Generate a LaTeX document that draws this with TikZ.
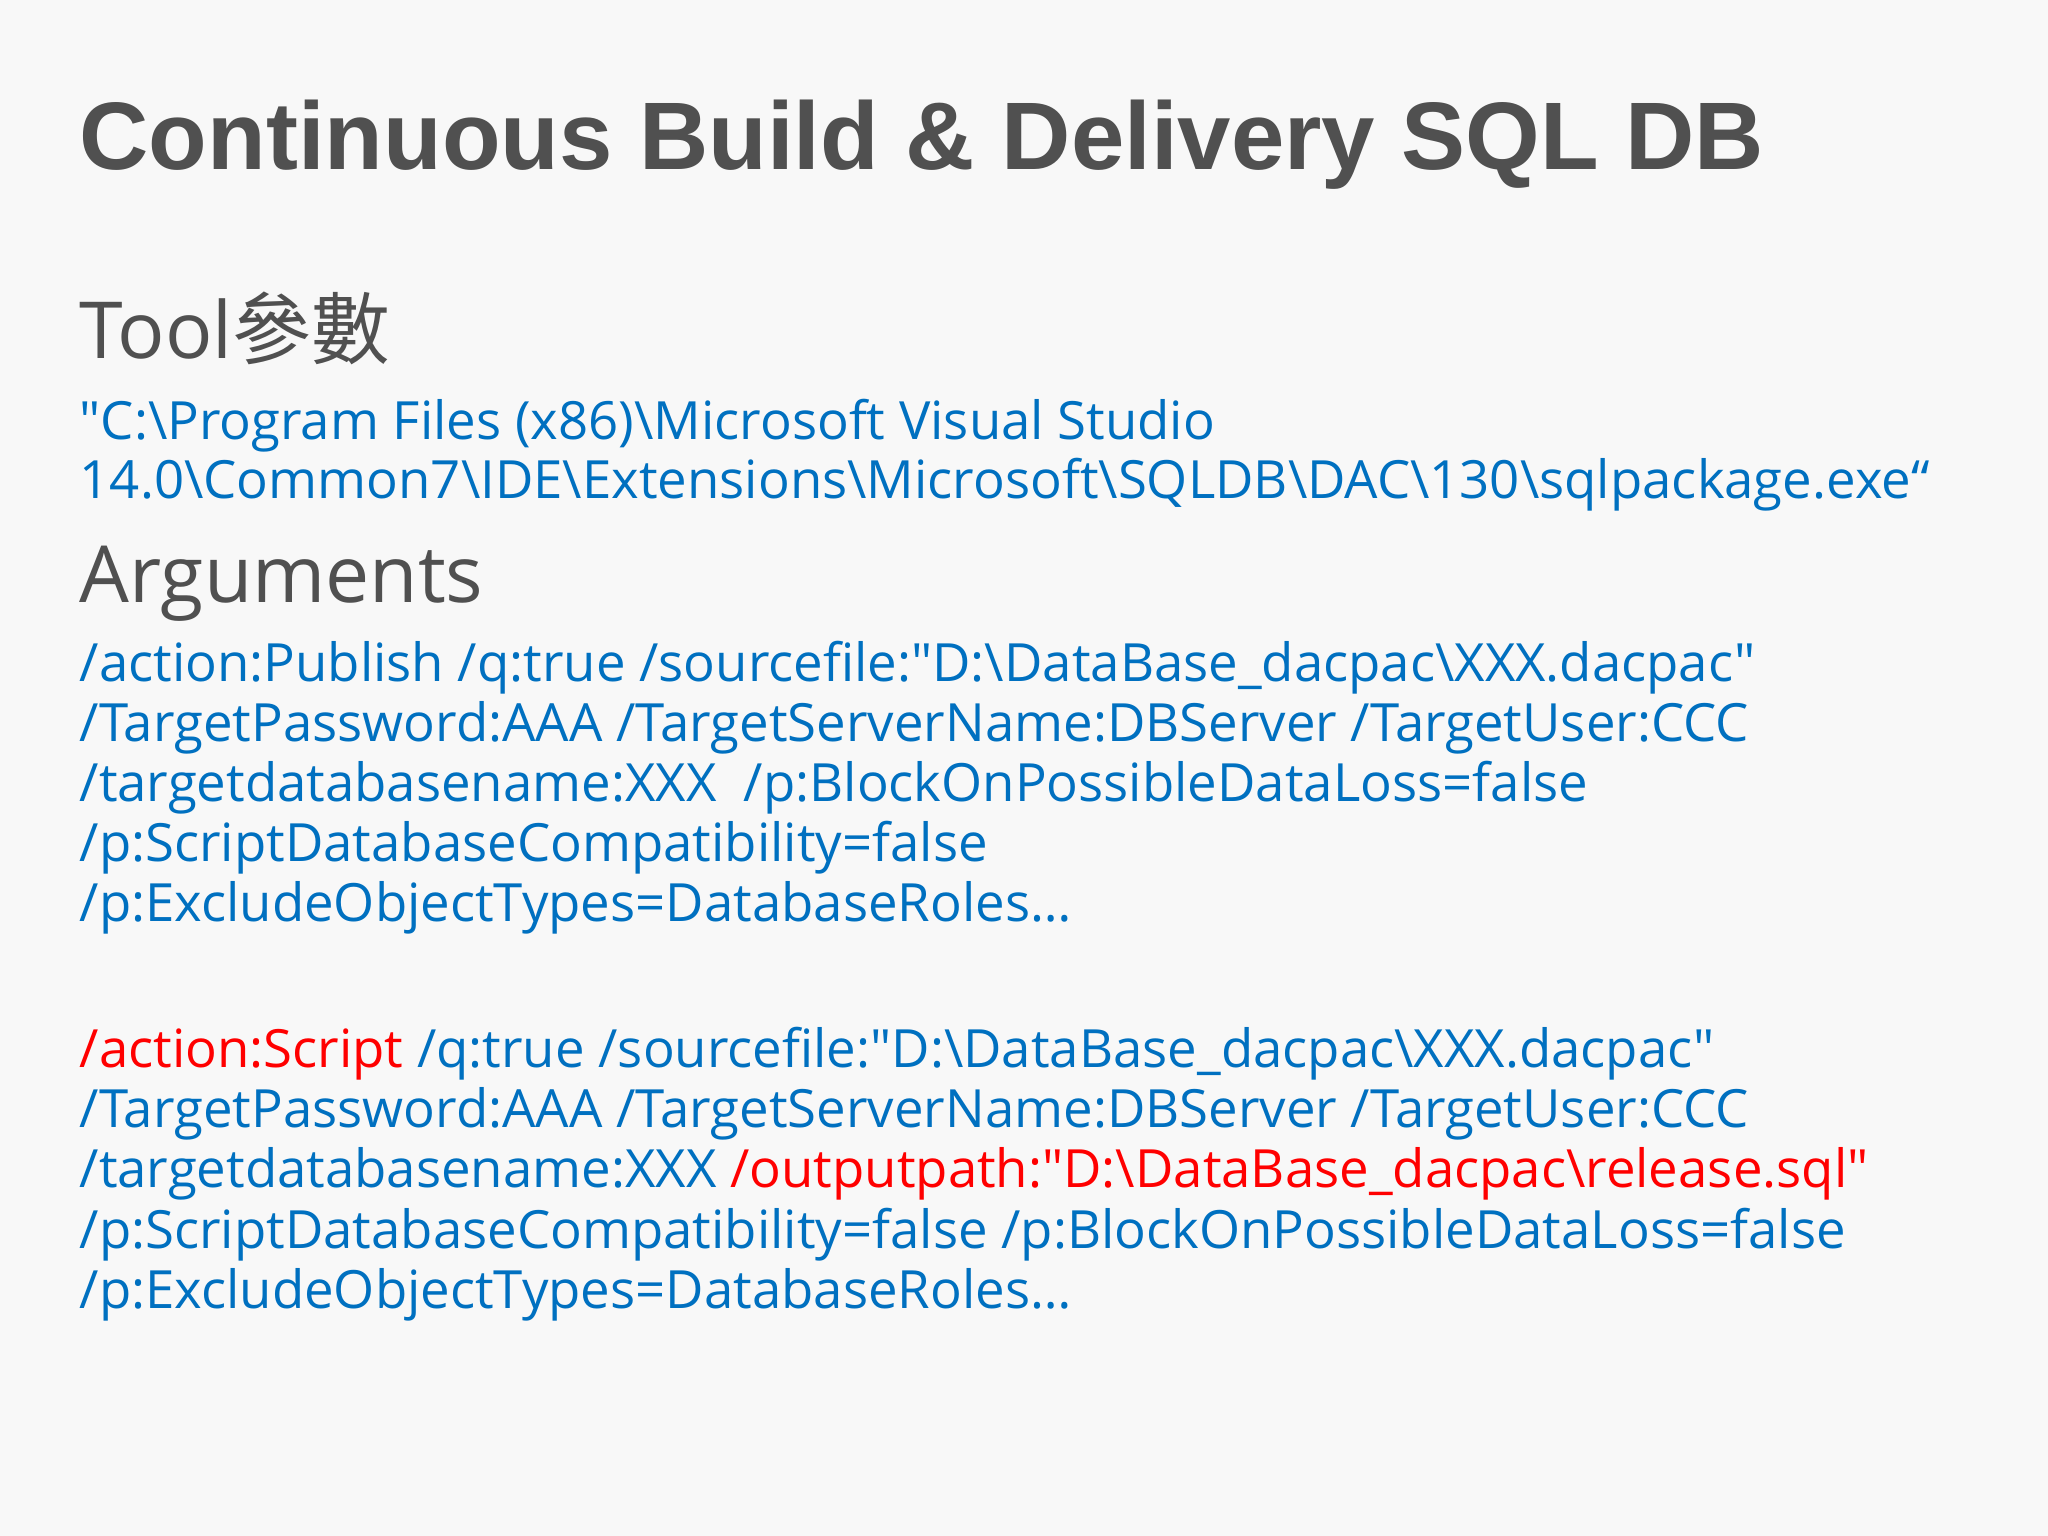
\documentclass[tikz,border=0pt]{standalone}
\usepackage{fontspec}
\setmainfont{Open Sans}[Ligatures=TeXOff]
\newfontfamily\titlefont{Liberation Sans}
\newfontfamily\cjk{Noto Sans CJK TC}
\definecolor{bgc}{HTML}{F8F8F8}
\definecolor{graytxt}{HTML}{505050}
\definecolor{bluetxt}{HTML}{0070C0}
\definecolor{redtxt}{HTML}{FF0000}
\newcommand{\bs}{\textbackslash}
\tikzset{
 ln/.style={anchor=base west, inner sep=0pt, text=bluetxt, font=\fontsize{15}{18}\selectfont},
 hd/.style={anchor=base west, inner sep=0pt, text=graytxt, font=\fontsize{22.4}{26}\selectfont},
}
\begin{document}
\begin{tikzpicture}
\fill[bgc] (0,0) rectangle (20.48,15.36);
\useasboundingbox (0,0) rectangle (20.48,15.36);
\node[anchor=base west, inner sep=0pt, text=graytxt, font=\titlefont\bfseries\fontsize{27.3}{32}\selectfont] (title) at (0.79,13.66) {Continuous Build \& Delivery SQL DB};
\node[hd] (tool) at (0.79,11.77) {Tool{\cjk 參數}};
\node[ln] (t1) at (0.79,10.96) {"C:\bs Program Files (x86)\bs Microsoft Visual Studio};
\node[ln] (t2) at (0.79,10.37) {14.0\bs Common7\bs IDE\bs Extensions\bs Microsoft\bs SQLDB\bs DAC\bs 130\bs sqlpackage.exe“};
\node[hd] (args) at (0.79,9.33) {Arguments};
\node[ln] (a1) at (0.79,8.54) {/action:Publish /q:true /sourcefile:"D:\bs DataBase\_dacpac\bs XXX.dacpac"};
\node[ln] (a2) at (0.79,7.94) {/TargetPassword:AAA /TargetServerName:DBServer /TargetUser:CCC};
\node[ln] (a3) at (0.79,7.34) {/targetdatabasename:XXX\ \ /p:BlockOnPossibleDataLoss=false};
\node[ln] (a4) at (0.79,6.74) {/p:ScriptDatabaseCompatibility=false};
\node[ln] (a5) at (0.79,6.14) {/p:ExcludeObjectTypes=DatabaseRoles…};
\node[ln] (b1) at (0.79,4.68) {\textcolor{redtxt}{/action:Script} /q:true /sourcefile:"D:\bs DataBase\_dacpac\bs XXX.dacpac"};
\node[ln] (b2) at (0.79,4.08) {/TargetPassword:AAA /TargetServerName:DBServer /TargetUser:CCC};
\node[ln] (b3) at (0.79,3.48) {/targetdatabasename:XXX \textcolor{redtxt}{/outputpath:"D:\bs DataBase\_dacpac\bs release.sql"}};
\node[ln] (b4) at (0.79,2.87) {/p:ScriptDatabaseCompatibility=false /p:BlockOnPossibleDataLoss=false};
\node[ln] (b5) at (0.79,2.27) {/p:ExcludeObjectTypes=DatabaseRoles…};
\end{tikzpicture}
\end{document}
